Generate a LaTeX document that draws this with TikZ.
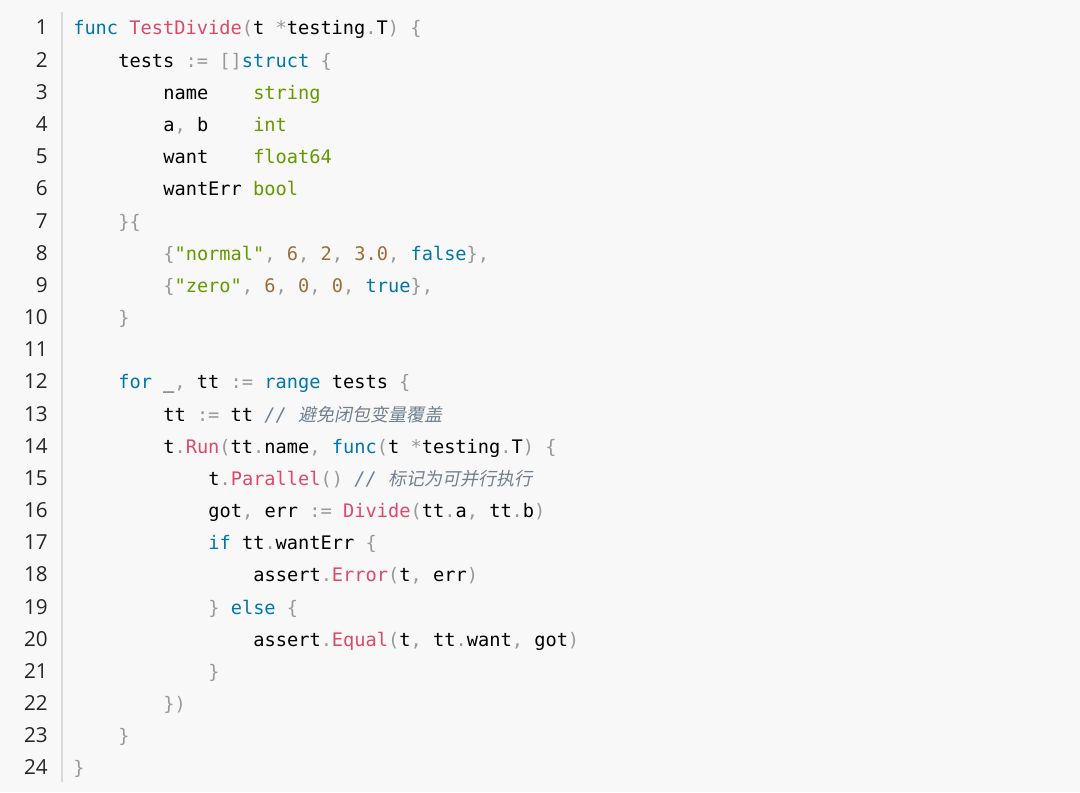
\documentclass[tikz,border=0pt]{standalone}
\usepackage{fontspec}
\setmonofont{DejaVu Sans Mono}
\setsansfont{Open Sans}
\newfontfamily\cjk[FakeSlant=0.2]{Noto Sans CJK SC}
\definecolor{kw}{HTML}{0077AA}
\definecolor{fn}{HTML}{DD4A68}
\definecolor{gr}{HTML}{669900}
\definecolor{nm}{HTML}{9A6E3A}
\definecolor{pu}{HTML}{999999}
\definecolor{cm}{HTML}{708090}
\definecolor{bg}{HTML}{F8F8F8}
\newcommand{\K}[1]{\textcolor{kw}{#1}}
\newcommand{\F}[1]{\textcolor{fn}{#1}}
\newcommand{\G}[1]{\textcolor{gr}{#1}}
\newcommand{\N}[1]{\textcolor{nm}{#1}}
\newcommand{\Pu}[1]{\textcolor{pu}{#1}}
\newcommand{\Cm}[1]{\textcolor{cm}{\textit{#1}}}
\newcommand{\CJ}[1]{{\cjk\fontsize{13.5pt}{14pt}\selectfont #1}}
\newcommand{\Ind}[1]{\hspace*{#1\dimexpr 8.44pt\relax}}
\begin{document}
\begin{tikzpicture}[x=0.75pt,y=-0.75pt,
  code/.style={anchor=base west,inner sep=0pt,font=\ttfamily\fontsize{14pt}{16pt}\selectfont},
  lnum/.style={anchor=base east,inner sep=0pt,font=\sffamily\fontsize{15.5pt}{17pt}\selectfont,text=black!85}]
\fill[bg] (0,0) rectangle (1080,792);
\useasboundingbox (0,0) rectangle (1080,792);
\draw[black!15,line width=1.5pt] (62,12) -- (62,782);
\foreach \i in {1,...,24}{\node[lnum] (n\i) at (48,{35+(\i-1)*32.17}) {\i};}
\newcommand{\CL}[2]{\node[code] (c#1) at (73,{35+(#1-1)*32.17}) {#2};}
\CL{1}{\K{func} \F{TestDivide}\Pu{(}t \Pu{*}testing\Pu{.}T\Pu{)} \Pu{\{}}
\CL{2}{\Ind{4}tests \Pu{:=} \Pu{[]}\K{struct} \Pu{\{}}
\CL{3}{\Ind{8}name\Ind{4}\G{string}}
\CL{4}{\Ind{8}a\Pu{,} b\Ind{4}\G{int}}
\CL{5}{\Ind{8}want\Ind{4}\G{float64}}
\CL{6}{\Ind{8}wantErr \G{bool}}
\CL{7}{\Ind{4}\Pu{\}\{}}
\CL{8}{\Ind{8}\Pu{\{}\G{"normal"}\Pu{,} \N{6}\Pu{,} \N{2}\Pu{,} \N{3.0}\Pu{,} \K{false}\Pu{\},}}
\CL{9}{\Ind{8}\Pu{\{}\G{"zero"}\Pu{,} \N{6}\Pu{,} \N{0}\Pu{,} \N{0}\Pu{,} \K{true}\Pu{\},}}
\CL{10}{\Ind{4}\Pu{\}}}
\CL{12}{\Ind{4}\K{for} \_\Pu{,} tt \Pu{:=} \K{range} tests \Pu{\{}}
\CL{13}{\Ind{8}tt \Pu{:=} tt \Cm{// \CJ{避免闭包变量覆盖}}}
\CL{14}{\Ind{8}t\Pu{.}\F{Run}\Pu{(}tt\Pu{.}name\Pu{,} \K{func}\Pu{(}t \Pu{*}testing\Pu{.}T\Pu{)} \Pu{\{}}
\CL{15}{\Ind{12}t\Pu{.}\F{Parallel}\Pu{()} \Cm{// \CJ{标记为可并行执行}}}
\CL{16}{\Ind{12}got\Pu{,} err \Pu{:=} \F{Divide}\Pu{(}tt\Pu{.}a\Pu{,} tt\Pu{.}b\Pu{)}}
\CL{17}{\Ind{12}\K{if} tt\Pu{.}wantErr \Pu{\{}}
\CL{18}{\Ind{16}assert\Pu{.}\F{Error}\Pu{(}t\Pu{,} err\Pu{)}}
\CL{19}{\Ind{12}\Pu{\}} \K{else} \Pu{\{}}
\CL{20}{\Ind{16}assert\Pu{.}\F{Equal}\Pu{(}t\Pu{,} tt\Pu{.}want\Pu{,} got\Pu{)}}
\CL{21}{\Ind{12}\Pu{\}}}
\CL{22}{\Ind{8}\Pu{\})}}
\CL{23}{\Ind{4}\Pu{\}}}
\CL{24}{\Pu{\}}}
\end{tikzpicture}
\end{document}
